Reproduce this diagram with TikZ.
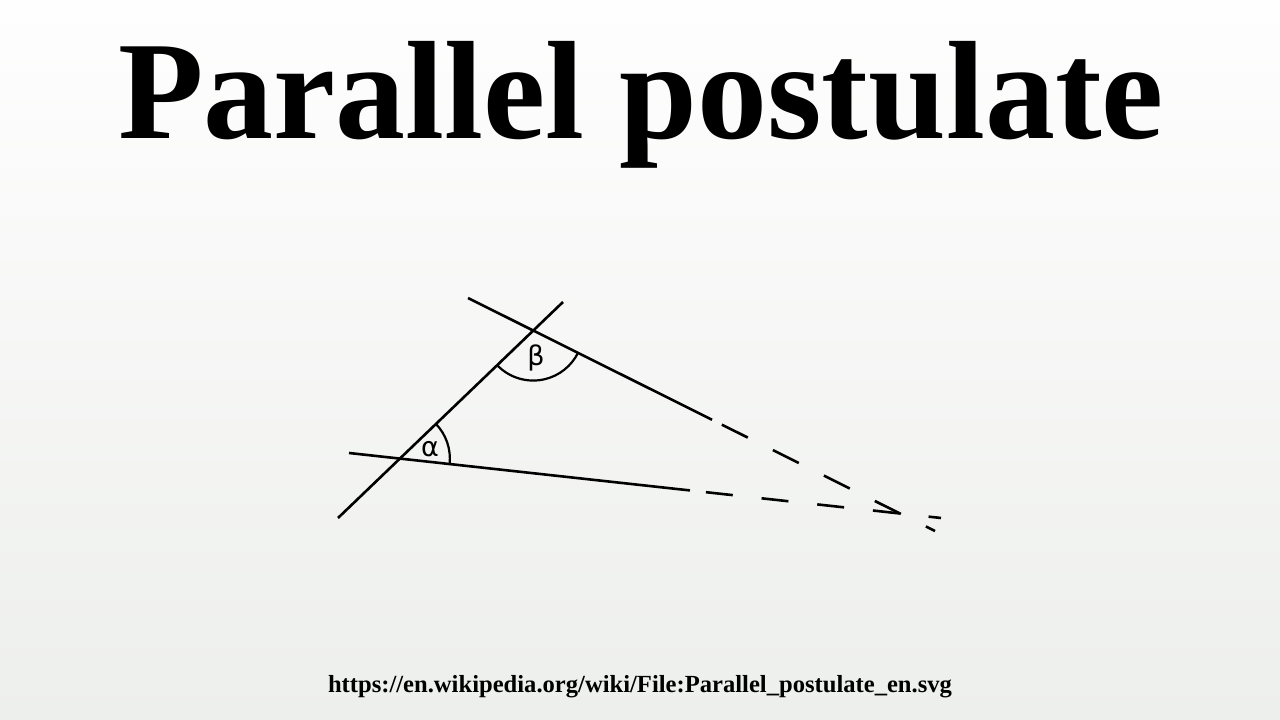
\documentclass[tikz,border=0pt]{standalone}
\usepackage{fontspec}
\setmainfont{Liberation Serif}
\newfontfamily\greekfont{DejaVu Sans}
\usetikzlibrary{calc}
\definecolor{bgtop}{RGB}{254,254,254}
\definecolor{bgbot}{RGB}{237,239,236}
\tikzset{
  geoline/.style={line width=2.6pt, black},
  angarc/.style={line width=2.2pt, black},
  anglabel/.style={font=\greekfont\fontsize{27}{27}\selectfont, inner sep=0pt},
}
\begin{document}
\begin{tikzpicture}[x=1pt,y=1pt]
  \shade[top color=bgtop, bottom color=bgbot] (0,0) rectangle (1280,720);
  \useasboundingbox (0,0) rectangle (1280,720);
  % title and source
  \node[anchor=base, inner sep=0pt, font=\bfseries\fontsize{140}{140}\selectfont] (title) at (641,581) {Parallel postulate};
  \node[anchor=base, inner sep=0pt, font=\bfseries\fontsize{24.6}{25}\selectfont] (url) at (640,27) {https://en.wikipedia.org/wiki/File:Parallel\_postulate\_en.svg};
  % line end points
  \coordinate (T1) at (338,202);
  \coordinate (T2) at (563,418);
  \coordinate (U1) at (468,422);
  \coordinate (U2) at (935,189);
  \coordinate (L1) at (349,267);
  \coordinate (L2) at (941,202);
  \coordinate (Us) at ($(U1)!0.5225!(U2)$);
  \coordinate (Ls) at ($(L1)!0.576!(L2)$);
  \coordinate (B) at (intersection of T1--T2 and U1--U2);
  \coordinate (A) at (intersection of T1--T2 and L1--L2);
  % transversal
  \draw[geoline] (T1) -- (T2);
  % upper line
  \draw[geoline] (U1) -- (Us);
  \draw[geoline, dash pattern=on 29pt off 28pt, dash phase=46pt] (Us) -- (U2);
  % lower line
  \draw[geoline] (L1) -- (Ls);
  \draw[geoline, dash pattern=on 27pt off 29pt, dash phase=40pt] (Ls) -- (L2);
  % angle arcs
  \draw[angarc] ($(B)+(223.8:50pt)$) arc[start angle=223.8, end angle=333.5, radius=50pt];
  \draw[angarc] ($(A)+(-6.27:50pt)$) arc[start angle=-6.27, end angle=43.83, radius=50pt];
  % labels
  \node[anchor=center, anglabel] (beta) at (536,362.5) {β};
  \node[anchor=center, anglabel] (alpha) at (430,271) {α};
\end{tikzpicture}
\end{document}
